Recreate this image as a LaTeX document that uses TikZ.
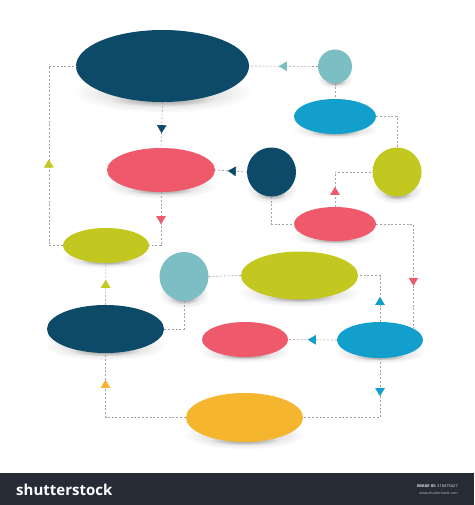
\documentclass[tikz,border=0pt]{standalone}
\usepackage{fontspec}
\setmainfont{Open Sans}
\usetikzlibrary{shapes.geometric,arrows.meta,decorations.markings,fadings}
\definecolor{cdark}{HTML}{0C4A68}
\definecolor{cteal}{HTML}{7BBFC4}
\definecolor{ccyan}{HTML}{139FCB}
\definecolor{clime}{HTML}{C2C820}
\definecolor{cpink}{HTML}{EE5A6B}
\definecolor{corange}{HTML}{F5B52F}
\definecolor{cbar}{HTML}{262B35}
\definecolor{cline}{HTML}{A2A2A2}
\tikzfading[name=softfade, inner color=transparent!0, outer color=transparent!100]
\newcommand\softshadow[4]{%
  \fill[black, opacity=0.26, path fading=softfade] (#1,{#2+0.72*#4}) ellipse ({1.04*#3} and {0.58*#4});
  \fill[black, opacity=0.30, path fading=softfade] (#1,{#2+0.93*#4}) ellipse ({0.6*#3} and {0.2*#4});}
\begin{document}
\begin{tikzpicture}[x=1pt,y=-1pt,
  oval/.style={ellipse, inner sep=0pt, draw=none},
  disc/.style={circle, inner sep=0pt, draw=none},
  conn/.style={draw=cline, line width=0.6pt, dash pattern=on 2pt off 1.8pt},
  tipat/.style 2 args={postaction={decorate}, decoration={markings,
      mark=at position #1 with {\arrow[color=#2]{Triangle[length=8pt,width=9.5pt]}}}},
]
\useasboundingbox (0,0) rectangle (474,505);
\fill[white] (0,0) rectangle (474,505);

% shadows
\softshadow{162.5}{66}{86.5}{36}
\softshadow{335}{66.5}{17}{17}
\softshadow{335}{116.5}{41}{17.5}
\softshadow{397}{172}{24.5}{24.5}
\softshadow{271.5}{172}{24.5}{24.5}
\softshadow{161}{170}{54}{22}
\softshadow{335}{224}{41}{17}
\softshadow{106}{245.5}{43}{17.5}
\softshadow{184}{276.5}{24.5}{24.5}
\softshadow{299.5}{275.5}{58.5}{24}
\softshadow{105.5}{329}{58.5}{24}
\softshadow{245}{339.5}{43}{17.5}
\softshadow{380}{340}{43}{18}
\softshadow{244.5}{417.5}{58.5}{24.5}

% shapes
\node[oval, fill=cdark,   minimum width=173pt, minimum height=72pt] (A) at (162.5,66) {};
\node[disc, fill=cteal,   minimum size=34pt]                        (B) at (335,66.5) {};
\node[oval, fill=ccyan,   minimum width=82pt,  minimum height=35pt] (C) at (335,116.5) {};
\node[disc, fill=clime,   minimum size=49pt]                        (D) at (397,172) {};
\node[disc, fill=cdark,   minimum size=49pt]                        (E) at (271.5,172) {};
\node[oval, fill=cpink,   minimum width=108pt, minimum height=44pt] (F) at (161,170) {};
\node[oval, fill=cpink,   minimum width=82pt,  minimum height=34pt] (G) at (335,224) {};
\node[oval, fill=clime,   minimum width=86pt,  minimum height=35pt] (H) at (106,245.5) {};
\node[disc, fill=cteal,   minimum size=49pt]                        (I) at (184,276.5) {};
\node[oval, fill=clime,   minimum width=117pt, minimum height=48pt] (J) at (299.5,275.5) {};
\node[oval, fill=cdark,   minimum width=117pt, minimum height=48pt] (K) at (105.5,329) {};
\node[oval, fill=cpink,   minimum width=86pt,  minimum height=35pt] (L) at (245,339.5) {};
\node[oval, fill=ccyan,   minimum width=86pt,  minimum height=36pt] (M) at (380,340) {};
\node[oval, fill=corange, minimum width=117pt, minimum height=49pt] (N) at (244.5,417.5) {};

% connectors
\draw[conn, tipat={39pt}{cteal}] (B.west) -- (A.east);
\draw[conn] (B.south) -- (C.north);
\draw[conn] (C.east) -| (D.north);
\draw[conn, tipat={19pt}{cdark}] (E.west) -- (F.east);
\draw[conn, tipat={31pt}{cdark}] (A.south) -- (F.north);
\draw[conn, tipat={100pt}{clime}] (H.west) -- ++(-14,0) |- (A.west);
\draw[conn, tipat={20pt}{cpink}] (G.north) |- (D.west);
\draw[conn] (E.south) |- (G.west);
\draw[conn, tipat={99pt}{cpink}] (G.east) -| (M.19);
\draw[conn, tipat={32pt}{cpink}] (F.south) |- (H.east);
\draw[conn] (I.east) -- (J.west);
\draw[conn, tipat={25pt}{ccyan}] (M.north) |- (J.east);
\draw[conn] (I.south) |- (K.east);
\draw[conn, tipat={25pt}{clime}] (K.north) -- (H.south);
\draw[conn, tipat={29pt}{ccyan}] (M.west) -- (L.east);
\draw[conn, tipat={38pt}{ccyan}] (M.south) |- (N.east);
\draw[conn, tipat={118pt}{corange}] (N.west) -| (K.south);

% bottom bar
\fill[cbar] (0,473) rectangle (474,505);
\node[text=white, font=\bfseries\fontsize{15}{15}\selectfont, anchor=west, inner sep=0pt] (logo) at (16,489.5) {shutterstock};
\node[text=white!85!cbar, font=\fontsize{4}{4}\selectfont, anchor=east, inner sep=0pt] (imgid) at (458,486) {{\bfseries IMAGE ID:} 318475427};
\node[text=white!70!cbar, font=\fontsize{3.6}{3.6}\selectfont, anchor=east, inner sep=0pt] (site) at (458,493) {www.shutterstock.com};
\end{tikzpicture}
\end{document}
